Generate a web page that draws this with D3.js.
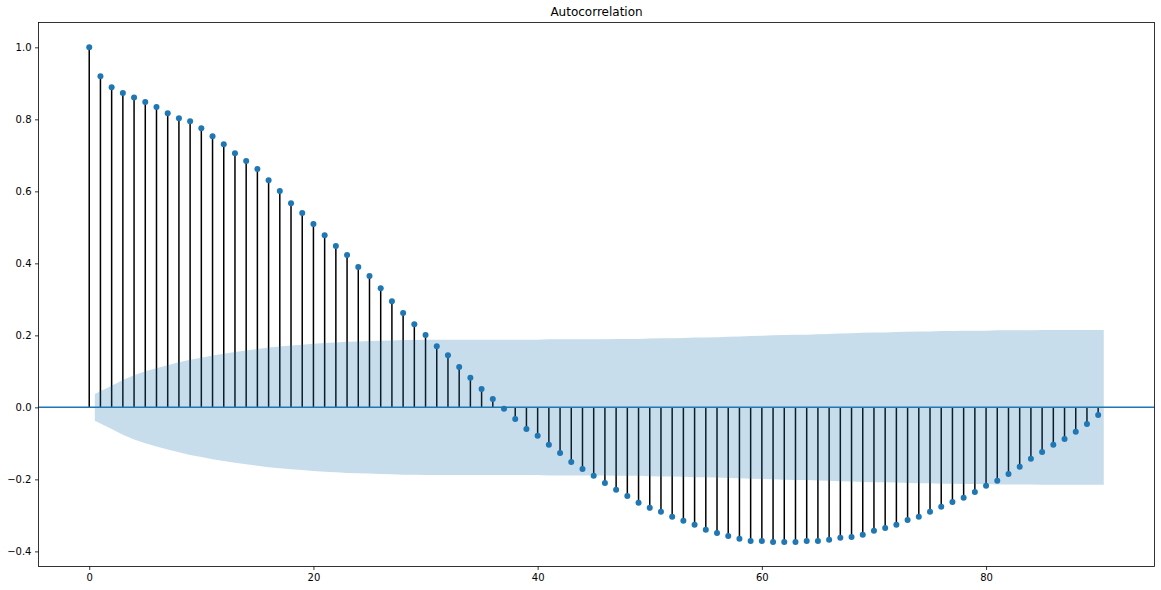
<!DOCTYPE html>
<html>
<head>
<meta charset="utf-8">
<script src="https://cdn.jsdelivr.net/npm/d3@7"></script>
<style>
  html, body { margin: 0; padding: 0; background: #fff; }
  svg { display: block; font-family: "DejaVu Sans", sans-serif; }
</style>
</head>
<body>
<svg id="chart" width="1161" height="590"></svg>
<script>
// ---- data ----
const title = "Autocorrelation";
const acfValues = [
  1.000, 0.920, 0.889, 0.873, 0.861, 0.848, 0.834, 0.817, 0.803, 0.795,
  0.775, 0.753, 0.731, 0.706, 0.684, 0.662, 0.631, 0.601, 0.567, 0.540,
  0.509, 0.478, 0.448, 0.423, 0.390, 0.365, 0.331, 0.295, 0.262, 0.231,
  0.201, 0.170, 0.145, 0.112, 0.082, 0.051, 0.023, -0.004, -0.032, -0.060,
  -0.079, -0.104, -0.127, -0.152, -0.171, -0.190, -0.210, -0.229, -0.246, -0.265,
  -0.279, -0.290, -0.304, -0.315, -0.326, -0.340, -0.349, -0.357, -0.365, -0.371,
  -0.371, -0.374, -0.374, -0.374, -0.371, -0.371, -0.368, -0.362, -0.360, -0.354,
  -0.343, -0.335, -0.326, -0.313, -0.304, -0.290, -0.276, -0.263, -0.251, -0.235,
  -0.218, -0.204, -0.185, -0.165, -0.143, -0.124, -0.104, -0.088, -0.068, -0.046,
  -0.021
];
// half-width of confidence band for lags 1..90
const bandHalfWidth = [
  0.037, 0.060, 0.076, 0.089, 0.100, 0.109, 0.117, 0.125, 0.132, 0.138,
  0.144, 0.149, 0.154, 0.158, 0.162, 0.166, 0.169, 0.172, 0.174, 0.177,
  0.179, 0.180, 0.182, 0.183, 0.184, 0.185, 0.186, 0.187, 0.187, 0.188,
  0.188, 0.188, 0.188, 0.188, 0.188, 0.188, 0.188, 0.188, 0.188, 0.188,
  0.189, 0.189, 0.189, 0.189, 0.189, 0.189, 0.190, 0.190, 0.190, 0.191,
  0.192, 0.192, 0.193, 0.194, 0.194, 0.195, 0.196, 0.197, 0.198, 0.199,
  0.200, 0.201, 0.202, 0.202, 0.203, 0.204, 0.205, 0.206, 0.207, 0.208,
  0.208, 0.209, 0.210, 0.211, 0.211, 0.212, 0.212, 0.213, 0.213, 0.213,
  0.214, 0.214, 0.214, 0.214, 0.215, 0.215, 0.215, 0.215, 0.215, 0.215
];
const xTicks = [0, 20, 40, 60, 80];
const yTicks = [-0.4, -0.2, 0.0, 0.2, 0.4, 0.6, 0.8, 1.0];

// ---- layout ----
const W = 1161, H = 590;
const plot = { left: 38.5, right: 1154.5, top: 22.5, bottom: 566.5 };
const C0 = "#1f77b4";

const svg = d3.select("#chart");

const x = d3.scaleLinear().domain([-4.525, 95.025]).range([plot.left, plot.right]);
const y = d3.scaleLinear().domain([-0.442, 1.069]).range([plot.bottom, plot.top]);

const acf = acfValues.map((v, i) => ({ lag: i, v }));
const band = bandHalfWidth.map((w, i) => {
  let lag = i + 1;
  if (i === 0) lag -= 0.5;
  if (i === bandHalfWidth.length - 1) lag += 0.5;
  return { lag, w };
});

const clipId = "clip";
svg.append("defs").append("clipPath").attr("id", clipId)
  .append("rect")
  .attr("x", plot.left).attr("y", plot.top)
  .attr("width", plot.right - plot.left).attr("height", plot.bottom - plot.top);

const g = svg.append("g").attr("clip-path", `url(#${clipId})`);

// stems
g.selectAll("line.stem").data(acf).join("line")
  .attr("class", "stem")
  .attr("x1", d => x(d.lag)).attr("x2", d => x(d.lag))
  .attr("y1", y(0)).attr("y2", d => y(d.v))
  .attr("stroke", "#000").attr("stroke-width", 1.5);

// zero line
g.append("line")
  .attr("x1", plot.left).attr("x2", plot.right)
  .attr("y1", y(0)).attr("y2", y(0))
  .attr("stroke", C0).attr("stroke-width", 1.5);

// markers
g.selectAll("circle.pt").data(acf).join("circle")
  .attr("class", "pt")
  .attr("cx", d => x(d.lag)).attr("cy", d => y(d.v))
  .attr("r", 3).attr("fill", C0);

// confidence band
const area = d3.area()
  .x(d => x(d.lag))
  .y0(d => y(-d.w))
  .y1(d => y(d.w));
g.append("path").datum(band)
  .attr("d", area)
  .attr("fill", C0).attr("fill-opacity", 0.25);

// axes
const xAxis = d3.axisBottom(x).tickValues(xTicks).tickFormat(d3.format("d")).tickSize(3.5).tickPadding(3.5);
const yAxis = d3.axisLeft(y).tickValues(yTicks).tickFormat(d3.format(".1f")).tickSize(3.5).tickPadding(3.5);

const gx = svg.append("g").attr("transform", `translate(0,${plot.bottom})`).call(xAxis);
const gy = svg.append("g").attr("transform", `translate(${plot.left},0)`).call(yAxis);
[gx, gy].forEach(a => {
  a.select(".domain").remove();
  a.selectAll(".tick line").attr("stroke", "#000").attr("stroke-width", 0.8);
  a.selectAll(".tick text").attr("fill", "#000").style("font-size", "10px")
    .style("font-family", "'DejaVu Sans', sans-serif");
});

// spines
svg.append("rect")
  .attr("x", plot.left).attr("y", plot.top)
  .attr("width", plot.right - plot.left).attr("height", plot.bottom - plot.top)
  .attr("fill", "none").attr("stroke", "#000").attr("stroke-width", 0.8);

// title
svg.append("text")
  .attr("x", (plot.left + plot.right) / 2).attr("y", plot.top - 6.5)
  .attr("text-anchor", "middle")
  .style("font-size", "12px")
  .attr("fill", "#000")
  .text(title);
</script>
</body>
</html>
